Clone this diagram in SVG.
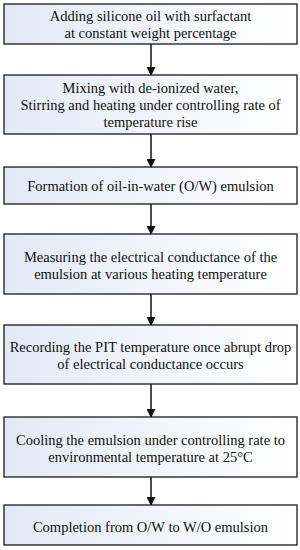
<svg xmlns="http://www.w3.org/2000/svg" width="300" height="550" viewBox="0 0 300 550">
<style>
.box{fill:url(#g);stroke:#1a1a1a;stroke-width:1.3}
text{font-family:"Liberation Serif","Times New Roman",serif;font-size:14.5px;fill:#111;text-anchor:middle}
.c{stroke:#111;stroke-width:1.5;fill:none;marker-end:url(#ah)}
</style>
<defs>
<linearGradient id="g" x1="0" y1="0" x2="1" y2="0">
<stop offset="0" stop-color="#e3e9f5"/>
<stop offset="1" stop-color="#ffffff"/>
</linearGradient>
<marker id="ah" markerWidth="9" markerHeight="9" refX="8" refY="4.5" orient="auto" markerUnits="userSpaceOnUse">
<path d="M0,0 L9,4.5 L0,9 Z" fill="#111"/>
</marker>
</defs>
<g id="connectors">
<line class="c" x1="151" y1="44" x2="151" y2="75"/>
<line class="c" x1="151" y1="134" x2="151" y2="167"/>
<line class="c" x1="151" y1="204" x2="151" y2="234"/>
<line class="c" x1="151" y1="294" x2="151" y2="325"/>
<line class="c" x1="151" y1="384" x2="151" y2="417"/>
<line class="c" x1="151" y1="477" x2="151" y2="505"/>
</g>
<g id="n1"><rect class="box" x="4" y="4" width="293" height="40"/>
<text x="150.5" y="21">Adding silicone oil with surfactant</text>
<text x="150.5" y="38">at constant weight percentage</text></g>
<g id="n2"><rect class="box" x="4" y="75" width="293" height="59"/>
<text x="150.5" y="93">Mixing with de-ionized water,</text>
<text x="150.5" y="110">Stirring and heating under controlling rate of</text>
<text x="150.5" y="127">temperature rise</text></g>
<g id="n3"><rect class="box" x="4" y="167" width="293" height="37"/>
<text x="150.5" y="191">Formation of oil-in-water (O/W) emulsion</text></g>
<g id="n4"><rect class="box" x="4" y="234" width="293" height="60"/>
<text x="150.5" y="262">Measuring the electrical conductance of the</text>
<text x="150.5" y="279">emulsion at various heating temperature</text></g>
<g id="n5"><rect class="box" x="4" y="325" width="293" height="59"/>
<text x="150.5" y="352">Recording the PIT temperature once abrupt drop</text>
<text x="150.5" y="369">of electrical conductance occurs</text></g>
<g id="n6"><rect class="box" x="4" y="417" width="293" height="60"/>
<text x="150.5" y="445">Cooling the emulsion under controlling rate to</text>
<text x="150.5" y="462">environmental temperature at 25°C</text></g>
<g id="n7"><rect class="box" x="4" y="505" width="293" height="40"/>
<text x="150.5" y="532">Completion from O/W to W/O emulsion</text></g>
</svg>
